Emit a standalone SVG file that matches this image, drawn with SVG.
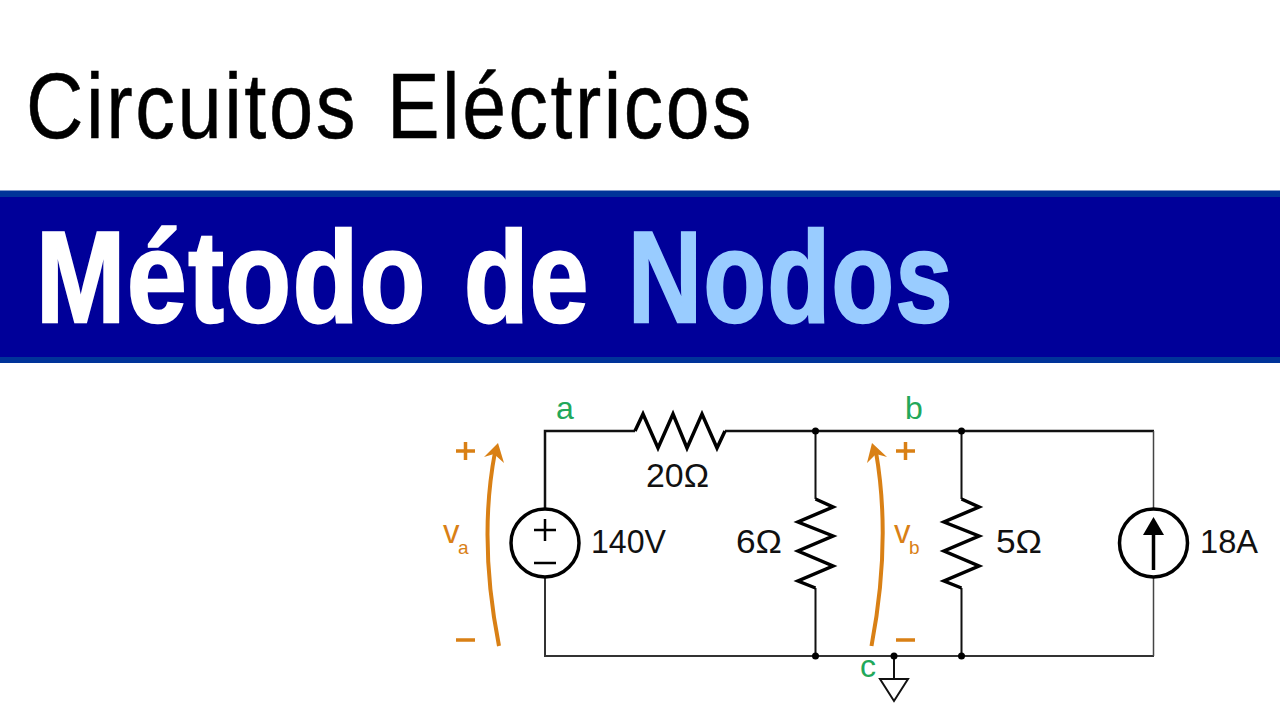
<svg xmlns="http://www.w3.org/2000/svg" width="1280" height="720" viewBox="0 0 1280 720">
<style>
text{font-family:"Liberation Sans",Arial,sans-serif}
.lbl{font-size:33px;fill:#111}
.grn{font-size:32px;fill:#22a85a}
.org{font-size:33px;fill:#d98015}
.sub{font-size:19px;fill:#d98015}
.w{fill:none;stroke:#111;stroke-width:2}
.r{fill:none;stroke:#000;stroke-width:3.5;stroke-linejoin:miter;stroke-miterlimit:3}
.c{fill:#fff;stroke:#000;stroke-width:3.5}
.d{fill:#000}
.p{stroke:#d98015;stroke-width:4;fill:none}
.t{font-size:93px;fill:#000;letter-spacing:3px;stroke:#000;stroke-width:.5}
.b{font-size:130px;font-weight:700;letter-spacing:2px;stroke-width:2.5}
</style>
<rect width="1280" height="720" fill="#fff"/>
<g id="title"><text class="t" x="26" y="138" textLength="332" lengthAdjust="spacingAndGlyphs">Circuitos</text><text class="t" x="387" y="138" textLength="367" lengthAdjust="spacingAndGlyphs">Eléctricos</text></g>
<g id="banner">
<rect x="0" y="190.500" width="1280" height="172.500" fill="#003399"/>
<rect x="0" y="197" width="1280" height="160" fill="#000099"/>
<text class="b" x="36" y="322" fill="#fff" stroke="#fff" textLength="391" lengthAdjust="spacingAndGlyphs">Método</text>
<text class="b" x="464" y="322" fill="#fff" stroke="#fff" textLength="126" lengthAdjust="spacingAndGlyphs">de</text>
<text class="b" x="628" y="322" fill="#99ccff" stroke="#99ccff" textLength="326" lengthAdjust="spacingAndGlyphs">Nodos</text>
</g>
<g id="connectors">
<path class="w" d="M635 431H545V509M725 431H1154" style="stroke-width:2.500"/>
<path class="w" d="M545 577V656H1154" style="stroke:#333"/>
<path class="w" d="M815.500 431V499M815.500 588V656M961.500 431V499M961.500 588V656M894 656V679"/>
<path class="w" d="M1153.500 431V509M1153.500 577V656" style="stroke:#444;stroke-width:1.500"/>
</g>
<g id="r20"><polyline class="r" points="635,431 643,414 658,448 673,414 687,448 702,414 717,448 725,431"/><text class="lbl" x="646" y="487" textLength="63" lengthAdjust="spacingAndGlyphs">20Ω</text></g>
<g id="r6"><polyline class="r" points="815.500,499 833,507 798,522 833,536 798,551 833,566 798,581 815.500,588"/><text class="lbl" x="736" y="553" textLength="46" lengthAdjust="spacingAndGlyphs">6Ω</text></g>
<g id="r5"><polyline class="r" points="961.500,499 979,507 944,522 979,536 944,551 979,566 944,581 961.500,588"/><text class="lbl" x="996" y="553" textLength="46" lengthAdjust="spacingAndGlyphs">5Ω</text></g>
<g id="vsource"><circle class="c" cx="545" cy="543" r="34"/><path d="M534 530H556M545 519V541M534 563H556" stroke="#000" stroke-width="2.500" fill="none"/><text class="lbl" x="591" y="553" textLength="75" lengthAdjust="spacingAndGlyphs">140V</text></g>
<g id="isource"><circle class="c" cx="1153.500" cy="543" r="34"/><path d="M1153.500 530V570" stroke="#000" stroke-width="3.500"/><polygon class="d" points="1153.500,517 1164,535 1143,535"/><text class="lbl" x="1200" y="553" textLength="58" lengthAdjust="spacingAndGlyphs">18A</text></g>
<g id="junctions"><circle class="d" cx="815.500" cy="431" r="3.500"/><circle class="d" cx="961.500" cy="431" r="3.500"/><circle class="d" cx="815.500" cy="656" r="3.500"/><circle class="d" cx="961.500" cy="656" r="3.500"/><circle class="d" cx="894" cy="656" r="3.500"/></g>
<g id="ground"><polygon points="880,679 908,679 894,701" fill="#fff" stroke="#111" stroke-width="2"/></g>
<g id="node-labels"><text class="grn" x="556" y="419">a</text><text class="grn" x="905" y="419">b</text><text class="grn" x="860" y="677">c</text></g>
<g id="va"><path class="p" d="M499 646C485 575 484 510 495 452"/><polygon fill="#d98015" points="498,443 504,463 494,454 484,457"/><text class="org" x="443" y="543">v</text><text class="sub" x="458" y="554">a</text><path d="M456 451H475M465.500 442V460M456 640H475" stroke="#d98015" stroke-width="3.500" fill="none"/></g>
<g id="vb"><path class="p" d="M871.500 646C885 575 886 510 876 452"/><polygon fill="#d98015" points="872,443 887,457 876,454 867,463"/><text class="org" x="894" y="543">v</text><text class="sub" x="909" y="554">b</text><path d="M896 451H915M905.500 442V460M896 640H915" stroke="#d98015" stroke-width="3.500" fill="none"/></g>
</svg>
